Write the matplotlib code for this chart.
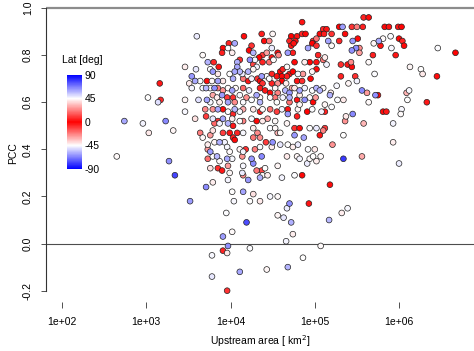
import numpy as np
import matplotlib.pyplot as plt
from matplotlib.colors import LinearSegmentedColormap
from matplotlib.ticker import FixedLocator, NullLocator

plt.rcParams['font.family'] = ['Liberation Sans', 'DejaVu Sans']
plt.rcParams['axes.unicode_minus'] = False

# each point: (log10 upstream area [km2], PCC, latitude [deg])
tropical = [
    (3.16, 0.68, 4), (3.17, 0.61, -7), (3.72, 0.69, 2), (3.71, 0.54, 10),
    (4.93, 0.17, -3), (3.91, -0.03, 6), (3.96, -0.20, -9), (4.85, 0.29, 1), (3.85, 0.32, 8), (3.90, 0.31, -4),
    (4.37, 0.31, 12), (3.91, 0.57, -2), (4.35, 0.56, 5), (4.55, 0.56, -11), (4.68, 0.57, 3), (4.91, 0.56, 0),
    (4.03, 0.55, 7), (4.79, 0.54, -5), (3.85, 0.52, 9), (4.31, 0.52, -1), (4.03, 0.50, 4), (4.76, 0.49, -8),
    (4.82, 0.49, 2), (3.91, 0.47, 11), (3.99, 0.47, -3), (4.08, 0.47, 6), (4.03, 0.45, -6), (4.05, 0.44, 1),
    (4.18, 0.40, 8), (4.42, 0.43, -10), (4.85, 0.94, 3), (4.16, 0.88, -2), (4.37, 0.89, 5), (4.72, 0.88, 0),
    (4.79, 0.88, -4), (4.85, 0.89, 7), (4.89, 0.89, 1), (4.70, 0.86, -7), (4.77, 0.86, 3), (4.98, 0.86, 9),
    (3.91, 0.83, -1), (3.98, 0.85, 6), (4.25, 0.84, -9), (4.40, 0.86, 2), (4.72, 0.84, 4), (4.75, 0.85, -3),
    (4.97, 0.85, 0), (5.02, 0.84, 8), (3.90, 0.81, -5), (4.22, 0.82, 1), (4.38, 0.80, 10), (4.56, 0.81, -2),
    (4.74, 0.81, 5), (5.04, 0.80, -6), (5.02, 0.77, 3), (4.11, 0.78, -8), (4.34, 0.79, 0), (4.38, 0.77, 6),
    (4.49, 0.79, -4), (4.76, 0.77, 2), (4.94, 0.77, -1), (3.80, 0.77, 7), (3.86, 0.75, -3), (4.27, 0.76, 12),
    (4.59, 0.73, 1), (4.62, 0.74, -6), (4.70, 0.72, 4), (4.74, 0.73, 0), (5.02, 0.74, -2), (4.32, 0.70, 9),
    (4.49, 0.72, -7), (4.55, 0.71, 3), (4.61, 0.71, -1), (4.67, 0.71, 5), (4.21, 0.69, -4), (4.35, 0.69, 2),
    (4.38, 0.68, -9), (4.49, 0.68, 6), (4.61, 0.69, 0), (4.79, 0.69, -3), (4.85, 0.69, 8), (4.95, 0.70, 1),
    (4.35, 0.66, -5), (4.41, 0.65, 4), (4.47, 0.64, -2), (3.96, 0.62, 10), (4.03, 0.62, -8), (4.79, 0.61, 3),
    (4.98, 0.60, -1), (5.81, 0.56, 2), (5.85, 0.56, -4), (5.58, 0.96, 6), (5.64, 0.96, -2), (5.29, 0.92, 0),
    (5.44, 0.92, 9), (5.57, 0.92, -5), (5.83, 0.92, 1), (5.88, 0.92, -3), (5.99, 0.92, 4), (6.03, 0.92, 0),
    (5.10, 0.91, -7), (5.14, 0.91, 3), (5.06, 0.89, -1), (5.11, 0.89, 5), (5.20, 0.89, -9), (5.36, 0.89, 2),
    (5.29, 0.86, 7), (5.51, 0.87, -2), (6.00, 0.87, 1), (6.04, 0.86, -6), (5.78, 0.84, 3), (6.06, 0.84, -1),
    (5.69, 0.80, 5), (5.96, 0.80, -3), (6.67, 0.81, 0), (5.31, 0.76, 8), (5.39, 0.76, -4), (5.44, 0.75, 2),
    (6.45, 0.71, -2), (5.31, 0.71, 6), (5.48, 0.71, -8), (5.75, 0.63, 1), (6.33, 0.60, 4), (5.12, 0.56, -5),
    (5.12, 0.49, 10), (5.06, 0.46, -3), (5.18, 0.25, 2),
]

subtropical = [
    (3.70, 0.57, 24), (3.64, 0.47, -22), (3.73, 0.40, 27), (3.73, 0.36, -19), (4.15, 0.29, 25), (3.97, 0.33, -28),
    (4.31, 0.31, 21), (3.79, 0.57, -26), (4.15, 0.57, 30), (4.47, 0.57, -20), (4.15, 0.52, 23), (4.44, 0.53, -29),
    (3.81, 0.51, 18), (4.32, 0.47, -24), (3.76, 0.46, 27), (4.27, 0.45, -21), (4.35, 0.45, 25), (4.56, 0.47, -31),
    (4.29, 0.40, 22), (4.14, 0.37, -26), (5.02, 0.87, 20), (4.46, 0.86, -23), (4.43, 0.81, 28), (4.46, 0.77, -19),
    (4.57, 0.80, 24), (4.86, 0.72, -27), (4.15, 0.70, 21), (4.56, 0.68, -25), (4.73, 0.66, 30), (3.85, 0.66, -22),
    (3.91, 0.65, 26), (4.15, 0.66, -18), (4.56, 0.64, 23), (3.79, 0.63, -29), (4.19, 0.62, 25), (4.53, 0.62, -21),
    (5.01, 0.62, 27), (4.05, 0.60, -24), (4.70, 0.60, 20), (5.36, 0.52, -26), (5.58, 0.51, 32), (5.56, 0.37, -30),
    (5.50, 0.92, 22), (5.53, 0.83, -25), (5.53, 0.81, 28), (5.10, 0.78, -20), (5.43, 0.77, 24), (5.62, 0.64, -27),
    (6.09, 0.64, 31), (5.10, 0.48, -23), (5.21, 0.42, 26),
]

midlat = [
    (2.65, 0.37, 44), (2.96, 0.51, -47), (3.03, 0.47, 41), (3.02, 0.62, -45), (3.14, 0.60, 50), (3.32, 0.48, -43),
    (3.46, 0.56, 46), (3.58, 0.53, -40), (3.60, 0.88, 48), (3.67, 0.80, -44), (3.46, 0.75, 42), (3.59, 0.74, -49),
    (3.64, 0.69, 45), (3.51, 0.68, -41), (3.54, 0.66, 47), (3.67, 0.66, -46), (3.46, 0.61, 43), (3.62, 0.61, -50),
    (3.67, 0.45, 44), (3.73, 0.42, -42), (4.04, 0.18, 46), (4.23, 0.18, -45), (4.35, 0.18, 41), (4.67, 0.15, -48),
    (3.95, 0.13, 45), (4.56, 0.12, -43), (4.63, 0.11, 49), (4.02, 0.05, -44), (4.74, 0.04, 42), (4.66, 0.01, -47),
    (4.23, -0.02, 45), (3.96, -0.04, -41), (3.78, -0.05, 46), (4.86, -0.06, -45), (4.43, -0.11, 43), (3.78, -0.14, -49),
    (5.07, -0.01, 44), (3.79, 0.26, -42), (3.97, 0.27, 47), (4.02, 0.22, -45), (4.27, 0.21, 40), (4.47, 0.20, -46),
    (4.56, 0.20, 44), (3.99, 0.30, -43), (4.14, 0.30, 48), (4.38, 0.29, -44), (4.44, 0.29, 42), (4.61, 0.28, -47),
    (4.76, 0.29, 45), (3.76, 0.32, -40), (4.15, 0.33, 46), (4.41, 0.32, -45), (4.56, 0.33, 43), (4.91, 0.34, -48),
    (4.94, 0.36, 44), (5.02, 0.35, -42), (3.97, 0.56, 45), (4.11, 0.56, -46), (4.27, 0.57, 41), (4.38, 0.57, -44),
    (4.61, 0.57, 47), (4.80, 0.57, -43), (4.97, 0.57, 45), (3.79, 0.53, -49), (4.02, 0.53, 42), (4.11, 0.52, -45),
    (4.25, 0.53, 46), (4.38, 0.52, -41), (4.53, 0.52, 44), (3.87, 0.51, -47), (4.67, 0.51, 43), (4.94, 0.49, -45),
    (5.02, 0.49, 48), (4.27, 0.49, -42), (4.47, 0.49, 45), (4.53, 0.49, -44), (3.79, 0.48, 40), (4.15, 0.47, -46),
    (4.59, 0.47, 44), (3.81, 0.43, -43), (3.93, 0.43, 47), (4.68, 0.42, -45), (4.74, 0.41, 42), (4.80, 0.42, -48),
    (4.92, 0.40, 45), (5.00, 0.40, -41), (3.96, 0.41, 46), (3.99, 0.39, -44), (4.11, 0.40, 43), (4.15, 0.39, -47),
    (4.35, 0.41, 45), (4.49, 0.41, -42), (4.59, 0.42, 49), (3.79, 0.37, -45), (3.87, 0.35, 44), (4.02, 0.36, -46),
    (4.67, 0.37, 41), (4.79, 0.37, -43), (4.82, 0.36, 47), (4.98, 0.37, -45), (4.50, 0.89, 43), (4.49, 0.83, -48),
    (3.97, 0.83, 45), (4.02, 0.81, -42), (4.29, 0.78, 46), (4.51, 0.78, -44), (4.88, 0.77, 42), (4.31, 0.75, -47),
    (3.76, 0.74, 45), (3.85, 0.72, -41), (4.67, 0.75, 44), (4.80, 0.72, -46), (4.97, 0.73, 43), (3.99, 0.72, -45),
    (4.14, 0.72, 48), (4.27, 0.74, -43), (4.43, 0.71, 45), (3.78, 0.69, -44), (3.91, 0.69, 41), (4.25, 0.70, -47),
    (4.46, 0.70, 45), (4.66, 0.68, -42), (3.76, 0.66, 46), (3.97, 0.66, -45), (4.06, 0.66, 44), (4.22, 0.65, -48),
    (4.53, 0.66, 43), (4.76, 0.66, -41), (4.88, 0.66, 47), (4.97, 0.65, -45), (3.84, 0.62, 42), (4.11, 0.63, -46),
    (4.25, 0.61, 45), (4.35, 0.62, -43), (4.47, 0.62, 44), (4.62, 0.62, -47), (4.82, 0.63, 41), (4.94, 0.62, -44),
    (3.76, 0.60, 46), (3.87, 0.60, -42), (4.15, 0.60, 45), (4.55, 0.60, -45), (4.82, 0.59, 43), (6.03, 0.57, -46),
    (6.02, 0.55, 44), (5.37, 0.54, -41), (5.93, 0.51, 47), (5.34, 0.46, -45), (5.93, 0.43, 42), (6.00, 0.34, -48),
    (5.90, 0.88, 45), (5.70, 0.85, -43), (5.81, 0.87, 44), (5.91, 0.83, -46), (6.46, 0.83, 45), (5.12, 0.79, -42),
    (5.14, 0.76, 47), (5.64, 0.77, -44), (6.13, 0.75, 43), (6.26, 0.74, -45), (6.28, 0.72, 41), (5.50, 0.69, -47),
    (5.71, 0.72, 45), (5.40, 0.68, -43), (5.26, 0.67, 46), (5.10, 0.66, -44), (5.19, 0.64, 42), (6.12, 0.65, -46),
    (5.27, 0.61, 45), (5.34, 0.61, -41), (5.64, 0.60, 44), (6.10, 0.61, -45), (5.08, 0.56, 47), (5.12, 0.59, -43),
    (5.20, 0.58, 45), (5.07, 0.37, -44), (5.32, 0.13, 42), (5.39, 0.15, -46), (5.20, 0.84, 44),
]

highlat = [
    (2.74, 0.52, 60), (3.23, 0.52, -66), (3.27, 0.35, 64), (3.52, 0.18, -62), (3.71, 0.24, 65), (3.73, 0.77, -58),
    (3.54, 0.71, 63), (3.58, 0.69, -60), (3.71, 0.66, 57), (3.72, 0.61, -61), (4.70, 0.17, 64), (4.72, 0.09, -59),
    (3.91, 0.03, 62), (3.97, -0.01, -64), (4.11, -0.12, 60), (4.68, -0.10, -58), (4.21, 0.27, 63), (4.15, 0.22, -61),
    (4.35, 0.28, 59), (4.27, 0.34, -65), (3.85, 0.57, 60), (4.05, 0.57, -57), (4.68, 0.55, 62), (3.91, 0.53, -60),
    (3.97, 0.51, 58), (4.76, 0.46, -63), (4.87, 0.45, 61), (3.87, 0.43, -59), (4.50, 0.43, 64), (3.76, 0.39, -62),
    (3.84, 0.37, 57), (3.96, 0.36, -60), (4.25, 0.36, 63), (4.37, 0.37, -66), (4.05, 0.85, 60), (4.27, 0.81, -58),
    (4.68, 0.81, 62), (4.92, 0.83, -61), (4.08, 0.77, 59), (4.23, 0.78, -64), (4.08, 0.75, 60), (4.11, 0.73, -57),
    (3.79, 0.73, 63), (4.05, 0.73, -60), (4.21, 0.73, 58), (4.37, 0.71, -62), (3.85, 0.69, 61), (4.03, 0.70, -59),
    (3.81, 0.66, 64), (4.02, 0.65, -61), (4.65, 0.65, 57), (4.70, 0.64, -63), (4.82, 0.65, 60), (5.02, 0.66, -58),
    (3.90, 0.63, 62), (4.31, 0.63, -60), (4.70, 0.62, 59), (4.88, 0.61, -64), (3.97, 0.60, 61), (4.35, 0.60, -57),
    (5.45, 0.55, 66), (5.33, 0.92, -62), (5.45, 0.86, 63), (5.76, 0.86, -60), (5.49, 0.83, 65), (5.44, 0.82, -64),
    (5.06, 0.65, 58), (5.56, 0.65, -66), (5.72, 0.63, 64), (5.18, 0.63, -59), (5.17, 0.10, 57), (5.16, 0.86, -61),
]

polar = [
    (3.34, 0.29, 78), (4.19, 0.09, -76), (5.34, 0.36, 80),
]

x_ticks = [1e2, 1e3, 1e4, 1e5, 1e6]
x_ticklabels = ['1e+02', '1e+03', '1e+04', '1e+05', '1e+06']
y_ticks = [-0.2, 0.0, 0.2, 0.4, 0.6, 0.8, 1.0]
lat_ticks = [-90, -45, 0, 45, 90]

pts = np.array(tropical + subtropical + midlat + highlat + polar)
area = 10 ** pts[:, 0]
pcc = pts[:, 1]
lat = pts[:, 2]

cmap = LinearSegmentedColormap.from_list('lat', ['blue', 'white', 'red', 'white', 'blue'])

fig = plt.figure(figsize=(4.74, 3.51), dpi=100)
ax = fig.add_axes([46 / 474, 49 / 351, 428 / 474, 305.3 / 351])
ax.set_xscale('log')
ax.set_xlim(10 ** 1.81, 10 ** 6.89)
ax.set_ylim(-0.248, 1.048)

ax.axhline(1.0, color='#8c8c8c', lw=1.6, zorder=1)
ax.axhline(0.0, color='#4d4d4d', lw=0.8, zorder=1)

sc = ax.scatter(area, pcc, c=lat, cmap=cmap, vmin=-90, vmax=90, s=17,
                edgecolors='#222222', linewidths=0.5, zorder=3)

for side in ['top', 'right', 'bottom']:
    ax.spines[side].set_visible(False)
ax.spines['left'].set_bounds(-0.2, 1.0)
ax.spines['left'].set_color('#333333')
ax.spines['left'].set_linewidth(0.8)

ax.xaxis.set_major_locator(FixedLocator(x_ticks))
ax.xaxis.set_minor_locator(NullLocator())
ax.set_xticklabels(x_ticklabels)
ax.set_yticks(y_ticks)
ax.set_yticklabels(['%.1f' % v for v in y_ticks], rotation=90, va='center')
ax.tick_params(axis='x', length=4, width=0.6, color='#333333', labelsize=7.5, pad=7)
ax.tick_params(axis='y', length=3.5, width=0.6, color='#333333', labelsize=7.5, pad=6)

fig.text(260 / 474, 1 - 341 / 351, 'Upstream area [ km$^2$]', ha='center', va='center', fontsize=7.5)
fig.text(13 / 474, 1 - 153 / 351, 'PCC', ha='center', va='center', rotation=90, fontsize=7.5)

cax = fig.add_axes([67 / 474, 1 - 169 / 351, 15 / 474, 94 / 351])
cb = fig.colorbar(sc, cax=cax, ticks=lat_ticks)
cb.outline.set_visible(False)
cb.set_ticklabels([str(t) for t in lat_ticks])
cax.tick_params(length=0, labelsize=7.5, pad=2)
fig.text(62 / 474, 1 - 60 / 351, 'Lat [deg]', ha='left', va='center', fontsize=7.5)

fig.savefig('out.png', dpi=100)
